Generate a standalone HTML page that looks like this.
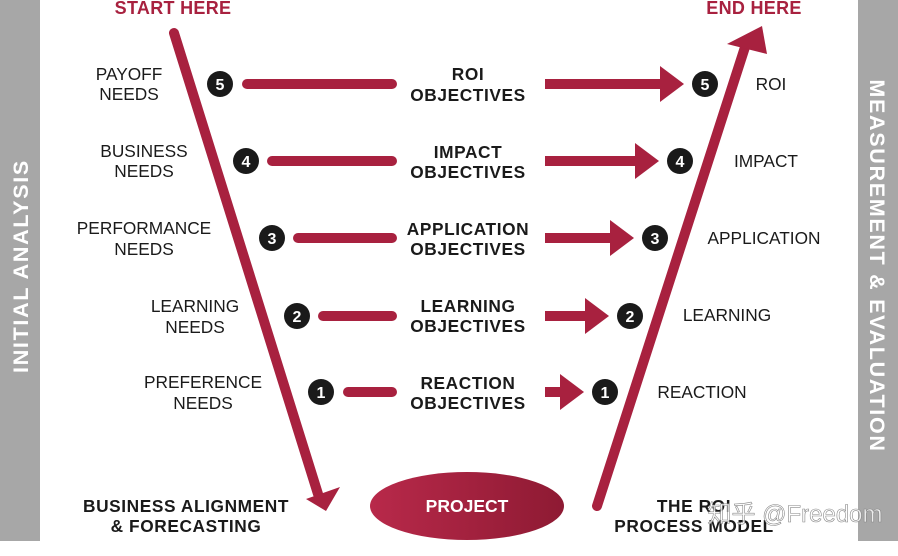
<!DOCTYPE html>
<html><head><meta charset="utf-8"><style>
html,body{margin:0;padding:0;background:#fff;}
body{width:898px;height:551px;overflow:hidden;}
svg text{font-family:"Liberation Sans",Arial,sans-serif;}
</style></head><body>
<svg width="898" height="551" viewBox="0 0 898 551" xmlns="http://www.w3.org/2000/svg">
<defs>
<linearGradient id="g" x1="0" x2="1"><stop offset="0" stop-color="#b8294a"/><stop offset="1" stop-color="#8e1a33"/></linearGradient>
</defs>
<rect x="0" y="0" width="40" height="541" fill="#a7a7a7"/>
<rect x="858" y="0" width="40" height="541" fill="#a7a7a7"/>
<text transform="translate(28,266) rotate(-90)" text-anchor="middle" font-size="21.5" font-weight="bold" fill="#fff" letter-spacing="1.7">INITIAL ANALYSIS</text>
<text transform="translate(870,266) rotate(90)" text-anchor="middle" font-size="21.5" font-weight="bold" fill="#fff" letter-spacing="1.7">MEASUREMENT &amp; EVALUATION</text>
<g fill="#a8213f" font-weight="bold" font-size="18">
<text x="173" y="14" text-anchor="middle" letter-spacing="0.3">START HERE</text>
<text x="754" y="14" text-anchor="middle" letter-spacing="0.3">END HERE</text>
</g>
<g stroke="#a8213f" stroke-width="10" stroke-linecap="round" fill="none">
<line x1="174" y1="33" x2="318" y2="494"/>
<line x1="597" y1="506" x2="746" y2="44"/>
</g>
<g fill="#a8213f">
<polygon points="306,499 326,511 340,487"/>
<polygon points="727,44 762,26 767,54"/>
</g>
<g stroke="#a8213f" stroke-width="10" stroke-linecap="round">
<line x1="247" y1="84" x2="392" y2="84"/>
<line x1="272" y1="161" x2="392" y2="161"/>
<line x1="298" y1="238" x2="392" y2="238"/>
<line x1="323" y1="316" x2="392" y2="316"/>
<line x1="348" y1="392" x2="392" y2="392"/>
</g>
<g fill="#a8213f">
<rect x="545" y="79" width="120" height="10"/><polygon points="660,66 684,84 660,102"/>
<rect x="545" y="156" width="95" height="10"/><polygon points="635,143 659,161 635,179"/>
<rect x="545" y="233" width="70" height="10"/><polygon points="610,220 634,238 610,256"/>
<rect x="545" y="311" width="45" height="10"/><polygon points="585,298 609,316 585,334"/>
<rect x="545" y="387" width="20" height="10"/><polygon points="560,374 584,392 560,410"/>
</g>
<g fill="#1a1a1a">
<circle cx="220" cy="84" r="13"/><circle cx="246" cy="161" r="13"/><circle cx="272" cy="238" r="13"/><circle cx="297" cy="316" r="13"/><circle cx="321" cy="392" r="13"/>
<circle cx="705" cy="84" r="13"/><circle cx="680" cy="161" r="13"/><circle cx="655" cy="238" r="13"/><circle cx="630" cy="316" r="13"/><circle cx="605" cy="392" r="13"/>
</g>
<g fill="#fff" font-weight="bold" font-size="16" text-anchor="middle">
<text x="220" y="90">5</text><text x="246" y="167">4</text><text x="272" y="244">3</text><text x="297" y="322">2</text><text x="321" y="398">1</text>
<text x="705" y="90">5</text><text x="680" y="167">4</text><text x="655" y="244">3</text><text x="630" y="322">2</text><text x="605" y="398">1</text>
</g>
<g fill="#1a1a1a" font-size="17.3" text-anchor="middle">
<text x="129" y="80">PAYOFF</text><text x="129" y="100">NEEDS</text>
<text x="144" y="157">BUSINESS</text><text x="144" y="177">NEEDS</text>
<text x="144" y="234">PERFORMANCE</text><text x="144" y="255">NEEDS</text>
<text x="195" y="312">LEARNING</text><text x="195" y="333">NEEDS</text>
<text x="203" y="388">PREFERENCE</text><text x="203" y="409">NEEDS</text>
<text x="771" y="90">ROI</text><text x="766" y="167">IMPACT</text><text x="764" y="244">APPLICATION</text><text x="727" y="321">LEARNING</text><text x="702" y="398">REACTION</text>
</g>
<g fill="#1a1a1a" font-size="17.3" font-weight="bold" text-anchor="middle" letter-spacing="0.6">
<text x="468" y="80">ROI</text><text x="468" y="101">OBJECTIVES</text>
<text x="468" y="158">IMPACT</text><text x="468" y="178">OBJECTIVES</text>
<text x="468" y="235">APPLICATION</text><text x="468" y="255">OBJECTIVES</text>
<text x="468" y="312">LEARNING</text><text x="468" y="332">OBJECTIVES</text>
<text x="468" y="389">REACTION</text><text x="468" y="409">OBJECTIVES</text>
<text x="186" y="512">BUSINESS ALIGNMENT</text><text x="186" y="532">&amp; FORECASTING</text>
<text x="694" y="512">THE ROI</text><text x="694" y="532">PROCESS MODEL</text>
</g>
<ellipse cx="467" cy="506" rx="97" ry="34" fill="url(#g)"/>
<text x="467" y="512" text-anchor="middle" fill="#fff" font-weight="bold" font-size="17.5">PROJECT</text>
<text x="795" y="522" text-anchor="middle" fill="#fff" fill-opacity="0.8" stroke="#888" stroke-width="0.6" font-size="24">知乎 @Freedom</text>
</svg>
</body></html>
